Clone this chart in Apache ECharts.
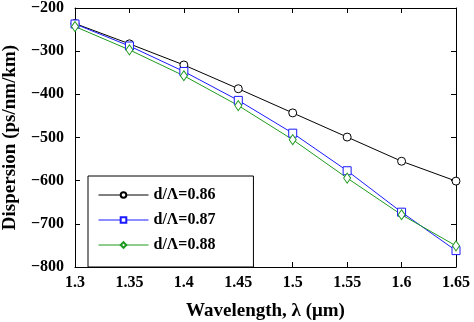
<!DOCTYPE html>
<html><head><meta charset="utf-8">
<script src="https://cdn.jsdelivr.net/npm/echarts@6/dist/echarts.min.js"></script>
<style>html,body{margin:0;padding:0;background:#fff}#c{width:474px;height:322px}</style>
</head><body><div id="c"></div>
<script>
var wavelengths = [1.3, 1.35, 1.4, 1.45, 1.5, 1.55, 1.6, 1.65];
var d086 = [-236, -283, -332, -387, -443, -499, -555, -601];
var d087 = [-237, -288, -347, -414, -490, -577, -673, -762];
var d088 = [-243, -297, -357, -426, -505, -594, -679, -751];
var seriesNames = ['d/\u039B=0.86', 'd/\u039B=0.87', 'd/\u039B=0.88'];

function pairs(ys){ return wavelengths.map(function(x,i){ return [x, ys[i]]; }); }
var font = '"Liberation Serif", "Times New Roman", serif';
var chart = echarts.init(document.getElementById('c'));
var axLine = {show:true, lineStyle:{color:'#000', width:1}};
chart.setOption({
  animation:false,
  grid:{left:75, right:18, top:8, bottom:55, show:false, containLabel:false, outerBoundsMode:'none'},
  legend:{
    orient:'vertical', left:88, top:176,
    padding:[11,38,14,10], itemGap:9, itemWidth:50, itemHeight:7,
    borderColor:'#000', borderWidth:1, backgroundColor:'#fff',
    lineStyle:{width:1},
    textStyle:{fontFamily:font, fontWeight:'bold', fontSize:16, color:'#000'},
    data: seriesNames
  },
  xAxis:[{
    type:'value', min:1.3, max:1.65, interval:0.05,
    axisLine:axLine, axisTick:{inside:true, length:5, lineStyle:{color:'#000'}},
    splitLine:{show:false},
    axisLabel:{fontFamily:font, fontWeight:'bold', fontSize:16, color:'#000', margin:8,
      formatter:function(v){ return String(parseFloat(v.toFixed(2))); }},
    name:'Wavelength, \u03BB (\u03BCm)', nameLocation:'middle', nameGap:35,
    nameTextStyle:{fontFamily:font, fontWeight:'bold', fontSize:19, color:'#000'}
  },{
    type:'value', position:'top', min:1.3, max:1.65, interval:0.05,
    axisLine:axLine, axisTick:{inside:true, length:5, lineStyle:{color:'#000'}},
    axisLabel:{show:false}, splitLine:{show:false}
  }],
  yAxis:[{
    type:'value', min:-800, max:-200, interval:100,
    axisLine:axLine, axisTick:{inside:true, length:5, lineStyle:{color:'#000'}},
    splitLine:{show:false},
    axisLabel:{fontFamily:font, fontWeight:'bold', fontSize:16, color:'#000', margin:11,
      formatter:function(v){ return String(v).replace('-', '\u2212'); }},
    name:'Dispersion (ps/nm/km)', nameLocation:'middle', nameGap:49,
    nameTextStyle:{fontFamily:font, fontWeight:'bold', fontSize:19, color:'#000'}
  },{
    type:'value', position:'right', min:-800, max:-200, interval:100,
    axisLine:axLine, axisTick:{inside:true, length:5, lineStyle:{color:'#000'}},
    axisLabel:{show:false}, splitLine:{show:false}
  }],
  series:[
    {name:seriesNames[0], type:'line', data:pairs(d086), symbol:'circle', symbolSize:8,
     itemStyle:{color:'#fff', borderColor:'#000', borderWidth:1}, lineStyle:{color:'#000', width:1}, color:'#000'},
    {name:seriesNames[1], type:'line', data:pairs(d087), symbol:'rect', symbolSize:8,
     itemStyle:{color:'#fff', borderColor:'#1a1aff', borderWidth:1}, lineStyle:{color:'#1a1aff', width:1}, color:'#1a1aff'},
    {name:seriesNames[2], type:'line', data:pairs(d088), symbol:'diamond', symbolSize:[7,10],
     itemStyle:{color:'#fff', borderColor:'#1f9a1f', borderWidth:1}, lineStyle:{color:'#1f9a1f', width:1}, color:'#1f9a1f'}
  ]
});
</script></body></html>
